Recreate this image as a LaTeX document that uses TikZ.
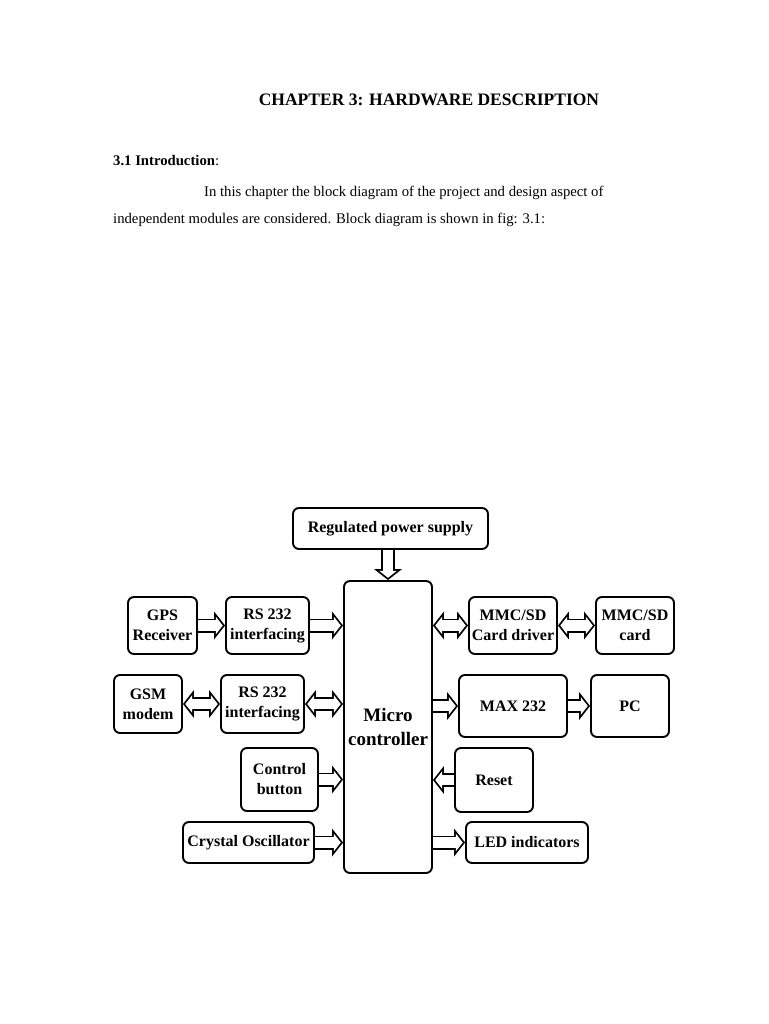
\documentclass[tikz,border=0pt]{standalone}
\usepackage{fontspec}
\setmainfont{Liberation Serif}
\usetikzlibrary{arrows.meta}

\begin{document}
\begin{tikzpicture}
  [x=1pt,y=-1pt,
   blk/.style={draw,line width=1.9pt,rounded corners=6pt,align=center,inner sep=0pt,
     font=\fontsize{16}{20}\selectfont\bfseries},
   sz/.style 2 args={minimum width=#1pt,minimum height=#2pt},
   outtip/.tip={Triangle[length=11pt,width=28pt,line width=0pt 0 0]},
   intip/.tip={Triangle[length=6.9pt,width=17.6pt,line width=0pt 0 0]},
   bus/.style={draw=white,line width=10.4pt,-intip,shorten >=2.3pt,
     preaction={draw=black,line width=14pt,-outtip,shorten >=0pt}},
   bibus/.style={draw=white,line width=10.4pt,intip-intip,shorten >=2.3pt,shorten <=2.3pt,
     preaction={draw=black,line width=14pt,outtip-outtip,shorten >=0pt,shorten <=0pt}},
   txt/.style={inner sep=0pt,font=\fontsize{14.7}{18}\selectfont}]
  \useasboundingbox[fill=white] (0,0) rectangle (768,1024);

  % heading and text
  \node[txt,anchor=base,font=\fontsize{17.5}{20}\selectfont\bfseries] (title) at (429,106) {CHAPTER 3: HARDWARE DESCRIPTION};
  \node[txt,anchor=base west] (sec) at (113,166) {\textbf{3.1 Introduction}:};
  \node[txt,anchor=base west] (par1) at (204,197) {In this chapter the block diagram of the project and design aspect of};
  \node[txt,anchor=base west] (par2) at (113,224) {independent modules are considered. Block diagram is shown in fig: 3.1:};

  % blocks
  \node[blk,sz={195}{41}] (psu) at (390.5,528.5) {Regulated power supply};
  \node[blk,sz={88}{292},font=\fontsize{19}{24}\selectfont\bfseries] (uc) at (388,727) {Micro\\controller};
  \node[blk,sz={69}{57}] (gps) at (162.5,625.5) {GPS\\Receiver};
  \node[blk,sz={83}{57}] (rs1) at (267.5,625.5) {RS 232\\interfacing};
  \node[blk,sz={68}{58}] (gsm) at (148,704) {GSM\\modem};
  \node[blk,sz={83}{58}] (rs2) at (262.5,704) {RS 232\\interfacing};
  \node[blk,sz={77}{63}] (ctrl) at (279.5,779.5) {Control\\button};
  \node[blk,sz={131}{41}] (xtal) at (248.5,842.5) {Crystal Oscillator};
  \node[blk,sz={88}{57}] (mmcd) at (513,625.5) {MMC/SD\\Card driver};
  \node[blk,sz={78}{57}] (mmc) at (635,625.5) {MMC/SD\\card};
  \node[blk,sz={108}{62}] (max) at (513,706) {MAX 232};
  \node[blk,sz={78}{62}] (pc) at (630,706) {PC};
  \node[blk,sz={78}{64}] (reset) at (494,780) {Reset};
  \node[blk,sz={122}{41}] (led) at (527,842.5) {LED indicators};

  % links
  \draw[bus] (psu.south -| uc.north) -- (uc.north);
  \foreach \from/\to in {gps/rs1,rs1/uc,ctrl/uc,xtal/uc}
    \draw[bus] (\from.east) -- (\from.east -| \to.west);
  \foreach \from/\to in {gsm/rs2,rs2/uc}
    \draw[bibus] (\from.east) -- (\from.east -| \to.west);
  \foreach \from/\to in {uc/mmcd,mmcd/mmc}
    \draw[bibus] (\to.west -| \from.east) -- (\to.west);
  \foreach \from/\to in {uc/max,max/pc,uc/led}
    \draw[bus] (\to.west -| \from.east) -- (\to.west);
  \draw[bus] (reset.west) -- (reset.west -| uc.east);
\end{tikzpicture}
\end{document}
